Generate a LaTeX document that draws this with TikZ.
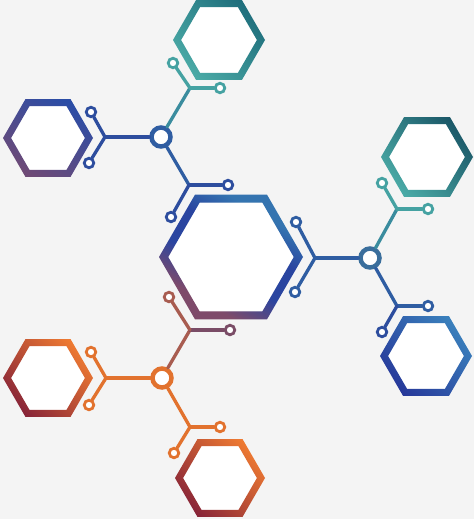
\documentclass[tikz,border=0pt]{standalone}
\usetikzlibrary{calc}
\definecolor{bg}{HTML}{F4F4F4}
% hexagon palettes
\definecolor{tealD}{HTML}{1F6E7C}
\definecolor{tealM}{HTML}{3A9A9A}
\definecolor{tealL}{HTML}{4AAAA6}
\definecolor{blueA}{HTML}{2B4DA6}
\definecolor{blueM}{HTML}{3A4C9A}
\definecolor{mauve}{HTML}{6E4A76}
\definecolor{steel}{HTML}{3474B0}
\definecolor{royal}{HTML}{2A45A0}
\definecolor{plum}{HTML}{7E4A6A}
\definecolor{tealDD}{HTML}{1B5868}
\definecolor{lblue}{HTML}{3A80BC}
\definecolor{navy}{HTML}{27399A}
\definecolor{orng}{HTML}{EE7A32}
\definecolor{orngM}{HTML}{C8502E}
\definecolor{maroon}{HTML}{882538}
% connector colours
\definecolor{wBlue}{HTML}{2D4D9E}
\definecolor{wSteel}{HTML}{2F5DA2}
\definecolor{wTeal}{HTML}{3A8C9E}
\definecolor{wTealL}{HTML}{45A2A2}
\definecolor{wRhub}{HTML}{3A6E9C}
\definecolor{wOr}{HTML}{E2722E}
\definecolor{wBrown}{HTML}{A85C50}
\definecolor{wMauve}{HTML}{7A4C66}
\pgfdeclareverticalshading{centrehex}{100bp}{color(0bp)=(plum); color(30bp)=(plum);
  color(44bp)=(royal); color(58bp)=(royal); color(70bp)=(steel); color(100bp)=(steel)}
\newcommand\hexpath[3]{({#1+#3},#2) -- ++(120:#3) -- ++(180:#3) -- ++(240:#3) -- ++(300:#3) -- ++(0:#3) -- cycle}
\newcommand\hexring[8]{%
  % #1,#2 centre  #3 outer radius  #4 band width  #5 top-right  #6 middle  #7 bottom-left  #8 angle
  \pgfmathsetmacro\hri{#3-#4*1.1547}%
  \fill[white] \hexpath{#1}{#2}{\hri};
  \shade[even odd rule, top color=#5, middle color=#6, bottom color=#7, shading angle=#8]
     \hexpath{#1}{#2}{#3} \hexpath{#1}{#2}{\hri};
}
\begin{document}
\begin{tikzpicture}[x=1pt,y=-1pt,
  hub/.style={circle, minimum size=19pt, inner sep=0pt, line width=4.5pt, fill=white, draw=#1},
  tip/.style={circle, minimum size=9.5pt, inner sep=0pt, line width=2.8pt, fill=white, draw=#1},
  wire/.style={line width=3.3pt, line cap=round, draw=#1}]
\fill[bg] (0,0) rectangle (474,519);
\useasboundingbox (0,0) rectangle (474,519);

% hexagons
\hexring{219}{40}{46}{7}{tealD}{tealM}{tealL}{-45}
\hexring{48}{138}{45}{7}{blueA}{blueM}{mauve}{-30}
% centre hexagon
\pgfmathsetmacro\cri{72-8*1.1547}
\fill[white] \hexpath{231}{257}{\cri};
\shade[even odd rule, shading=centrehex, shading angle=-30]
   \hexpath{231}{257}{72} \hexpath{231}{257}{\cri};
\hexring{427}{157}{46}{7}{tealDD}{tealM}{tealL}{-45}
\hexring{426}{356}{46}{7}{lblue}{royal}{navy}{-45}
\hexring{48}{378}{45}{7}{orng}{orngM}{maroon}{-45}
\hexring{220}{478}{45}{7}{orng}{orngM}{maroon}{-45}

% ---------- top-left cluster ----------
\node[hub=wSteel] (h1) at (161,137) {};
\coordinate (b1l) at (105,137);
\coordinate (b1u) at (190,88);
\coordinate (b1d) at (189,185);
\node[tip=wBlue] (t1a) at (91,112) {};
\node[tip=wBlue] (t1b) at (89,163) {};
\node[tip=wTealL] (t1c) at (220,88) {};
\node[tip=wTealL] (t1d) at (173,63) {};
\node[tip=wBlue] (t1e) at (228,185) {};
\node[tip=wBlue] (t1f) at (171,217) {};
\draw[wire=wBlue] (h1) -- (b1l);
\draw[wire=wBlue] (b1l) -- (t1a);
\draw[wire=wBlue] (b1l) -- (t1b);
\draw[wire=wTeal] (h1) -- (b1u);
\draw[wire=wTealL] (b1u) -- (t1c);
\draw[wire=wTealL] (b1u) -- (t1d);
\draw[wire=wSteel] (h1) -- (b1d);
\draw[wire=wBlue] (b1d) -- (t1e);
\draw[wire=wBlue] (b1d) -- (t1f);

% ---------- right cluster ----------
\node[hub=wRhub] (h2) at (370,258) {};
\coordinate (b2l) at (315,258);
\coordinate (b2u) at (397,209);
\coordinate (b2d) at (397,306);
\node[tip=wSteel] (t2a) at (296,222) {};
\node[tip=wSteel] (t2b) at (295,292) {};
\node[tip=wTealL] (t2c) at (428,209) {};
\node[tip=wTealL] (t2d) at (382,183) {};
\node[tip=wSteel] (t2e) at (428,306) {};
\node[tip=wBlue] (t2f) at (382,332) {};
\draw[wire=wSteel] (h2) -- (b2l);
\draw[wire=wSteel] (b2l) -- (t2a);
\draw[wire=wSteel] (b2l) -- (t2b);
\draw[wire=wTeal] (h2) -- (b2u);
\draw[wire=wTealL] (b2u) -- (t2c);
\draw[wire=wTealL] (b2u) -- (t2d);
\draw[wire=wSteel] (h2) -- (b2d);
\draw[wire=wSteel] (b2d) -- (t2e);
\draw[wire=wBlue] (b2d) -- (t2f);

% ---------- orange cluster ----------
\node[hub=wOr] (h3) at (162,378) {};
\coordinate (b3l) at (106,378);
\coordinate (b3u) at (190,330);
\coordinate (b3d) at (190,427);
\node[tip=wOr] (t3a) at (91,352) {};
\node[tip=wOr] (t3b) at (89,405) {};
\node[tip=wMauve] (t3c) at (230,330) {};
\node[tip=wBrown] (t3d) at (169,297) {};
\node[tip=wOr] (t3e) at (220,427) {};
\node[tip=wOr] (t3f) at (174,453) {};
\draw[wire=wOr] (h3) -- (b3l);
\draw[wire=wOr] (b3l) -- (t3a);
\draw[wire=wOr] (b3l) -- (t3b);
\draw[wire=wBrown] (h3) -- (b3u);
\draw[wire=wMauve] (b3u) -- (t3c);
\draw[wire=wBrown] (b3u) -- (t3d);
\draw[wire=wOr] (h3) -- (b3d);
\draw[wire=wOr] (b3d) -- (t3e);
\draw[wire=wOr] (b3d) -- (t3f);
\end{tikzpicture}
\end{document}
